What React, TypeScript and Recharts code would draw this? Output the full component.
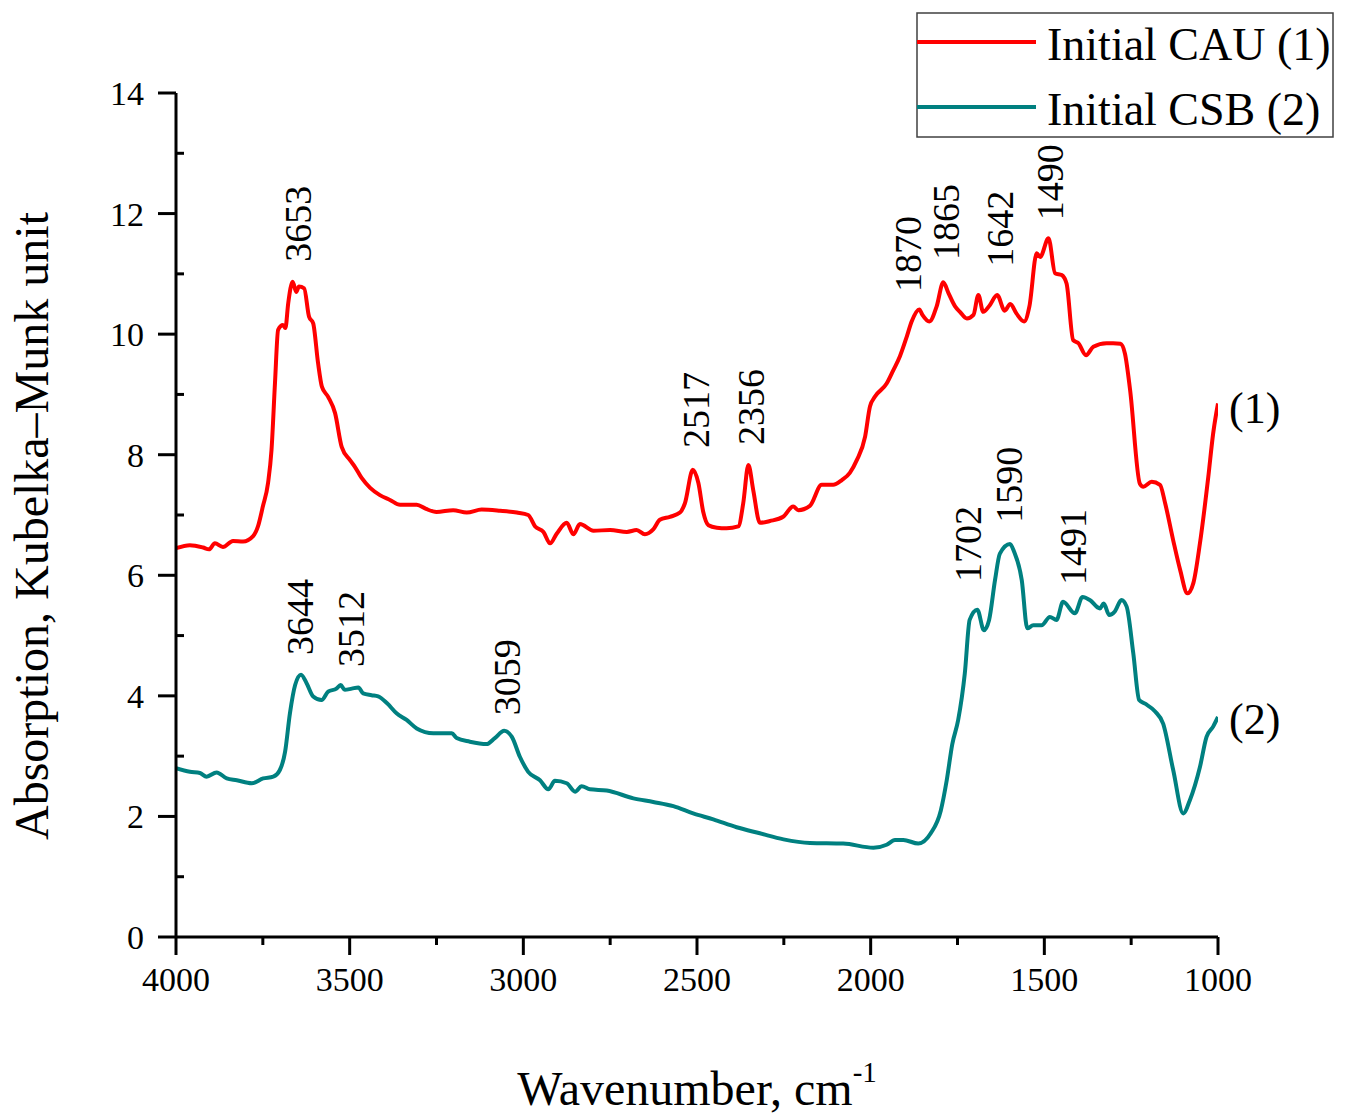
import {
  Label,
  Legend,
  Line,
  LineChart,
  ReferenceDot,
  XAxis,
  YAxis,
} from "recharts";

const FONT = "Liberation Serif, Times New Roman, serif";
const CAU_COLOR = "#ff0000";
const CSB_COLOR = "#008080";

// Initial CAU (1)
const cauWavenumbers = [
  4000, 3960, 3922, 3905, 3888, 3865, 3836, 3807, 3778, 3764, 3750, 3735, 3725,
  3715, 3706, 3692, 3685, 3677, 3664, 3654, 3646, 3631, 3617, 3605, 3591, 3580,
  3562, 3542, 3523, 3499, 3485, 3465, 3441, 3413, 3384, 3355, 3307, 3280, 3250,
  3202, 3163, 3120, 3067, 3019, 2986, 2966, 2942, 2923, 2904, 2875, 2856, 2837,
  2798, 2750, 2702, 2674, 2650, 2626, 2607, 2578, 2549, 2535, 2512, 2496, 2482,
  2467, 2443, 2415, 2381, 2367, 2352, 2338, 2319, 2290, 2252, 2223, 2208, 2175,
  2141, 2108, 2083, 2060, 2040, 2016, 2002, 1988, 1954, 1935, 1916, 1896, 1882,
  1860, 1851, 1831, 1810, 1791, 1776, 1757, 1743, 1723, 1704, 1690, 1676, 1657,
  1636, 1614, 1598, 1580, 1558, 1543, 1522, 1512, 1488, 1469, 1450, 1436, 1417,
  1402, 1380, 1359, 1321, 1302, 1281, 1268, 1253, 1225, 1215, 1191, 1167, 1152,
  1129, 1109, 1088, 1071, 1052, 1028, 1014, 1000,
];
const cauValues = [
  6.45, 6.5, 6.46, 6.43, 6.53, 6.47, 6.57, 6.56, 6.65, 6.81, 7.14, 7.53, 8.08,
  9.19, 10.07, 10.15, 10.1, 10.51, 10.87, 10.7, 10.79, 10.76, 10.29, 10.18, 9.52,
  9.13, 8.96, 8.69, 8.13, 7.91, 7.8, 7.61, 7.45, 7.33, 7.25, 7.17, 7.17, 7.1,
  7.05, 7.08, 7.04, 7.09, 7.07, 7.04, 7.0, 6.81, 6.72, 6.53, 6.69, 6.87, 6.68,
  6.85, 6.74, 6.75, 6.72, 6.75, 6.68, 6.76, 6.92, 6.97, 7.04, 7.19, 7.75, 7.53,
  7.05, 6.83, 6.79, 6.78, 6.81, 7.19, 7.83, 7.41, 6.87, 6.9, 6.97, 7.14, 7.08,
  7.15, 7.5, 7.5, 7.58, 7.7, 7.91, 8.3, 8.8, 8.96, 9.18, 9.4, 9.63, 9.96, 10.21,
  10.41, 10.32, 10.21, 10.46, 10.86, 10.68, 10.46, 10.37, 10.26, 10.32, 10.65,
  10.37, 10.48, 10.65, 10.39, 10.5, 10.34, 10.21, 10.46, 11.34, 11.28, 11.59,
  11.01, 10.98, 10.84, 9.9, 9.85, 9.65, 9.79, 9.85, 9.85, 9.84, 9.68, 9.07, 7.52,
  7.47, 7.55, 7.5, 7.19, 6.58, 6.09, 5.7, 5.87, 6.53, 7.63, 8.35, 8.85,
];

// Initial CSB (2)
const csbWavenumbers = [
  4000, 3960, 3931, 3912, 3883, 3854, 3825, 3782, 3749, 3720, 3701, 3686, 3672,
  3657, 3640, 3624, 3605, 3581, 3562, 3538, 3526, 3514, 3494, 3475, 3461, 3437,
  3418, 3393, 3365, 3336, 3307, 3259, 3206, 3192, 3154, 3106, 3082, 3055, 3033,
  3010, 2986, 2952, 2928, 2909, 2875, 2851, 2832, 2808, 2760, 2683, 2626, 2568,
  2511, 2453, 2386, 2319, 2251, 2175, 2079, 1992, 1954, 1930, 1906, 1863, 1827,
  1798, 1781, 1765, 1748, 1729, 1715, 1693, 1674, 1659, 1642, 1628, 1599, 1587,
  1565, 1549, 1532, 1508, 1484, 1465, 1446, 1412, 1390, 1369, 1340, 1329, 1313,
  1297, 1278, 1263, 1244, 1227, 1210, 1181, 1158, 1129, 1100, 1081, 1052, 1033,
  1014, 1000,
];
const csbValues = [
  2.8, 2.74, 2.72, 2.66, 2.73, 2.63, 2.6, 2.55, 2.63, 2.66, 2.77, 3.07, 3.71,
  4.18, 4.35, 4.21, 3.99, 3.93, 4.07, 4.12, 4.18, 4.1, 4.12, 4.14, 4.04, 4.01,
  3.99, 3.88, 3.71, 3.6, 3.46, 3.38, 3.38, 3.3, 3.24, 3.2, 3.3, 3.42, 3.32, 2.99,
  2.74, 2.6, 2.45, 2.59, 2.55, 2.41, 2.5, 2.45, 2.43, 2.3, 2.24, 2.17, 2.05,
  1.95, 1.82, 1.72, 1.62, 1.56, 1.55, 1.48, 1.53, 1.61, 1.61, 1.55, 1.72, 2.1,
  2.6, 3.2, 3.6, 4.37, 5.26, 5.43, 5.09, 5.26, 5.92, 6.36, 6.52, 6.39, 5.92,
  5.12, 5.17, 5.17, 5.31, 5.26, 5.56, 5.37, 5.64, 5.59, 5.45, 5.53, 5.34, 5.4,
  5.59, 5.48, 4.71, 3.93, 3.87, 3.74, 3.54, 2.77, 2.05, 2.27, 2.82, 3.32, 3.49,
  3.65,
];

// band assignments written above the peaks: text, wavenumber, height of text foot
const cauPeakLabels = ["3653", "2517", "2356", "1870", "1865", "1642", "1490"];
const cauPeakX = [3649, 2504, 2345, 1892, 1784, 1628, 1484];
const cauPeakY = [11.2, 8.11, 8.16, 10.7, 11.23, 11.12, 11.89];

const csbPeakLabels = ["3644", "3512", "3059", "1702", "1590", "1491"];
const csbPeakX = [3643, 3497, 3047, 1719, 1602, 1417];
const csbPeakY = [4.68, 4.48, 3.68, 5.89, 6.87, 5.84];

const xTicks = [
  4000, 3750, 3500, 3250, 3000, 2750, 2500, 2250, 2000, 1750, 1500, 1250, 1000,
];
const yTicks = [0, 1, 2, 3, 4, 5, 6, 7, 8, 9, 10, 11, 12, 13, 14];

const cauData = cauWavenumbers.map((wn, i) => ({ wn, value: cauValues[i] }));
const csbData = csbWavenumbers.map((wn, i) => ({ wn, value: csbValues[i] }));

const peakLabels = [
  ...cauPeakLabels.map((text, i) => ({ text, x: cauPeakX[i], y: cauPeakY[i] })),
  ...csbPeakLabels.map((text, i) => ({ text, x: csbPeakX[i], y: csbPeakY[i] })),
];

const serif = { fontFamily: FONT };

function XTick({ x, y, payload }: any) {
  const major = payload.value % 500 === 0;
  return (
    <g>
      <line x1={x} y1={y} x2={x} y2={y + (major ? 18 : 8)} stroke="#000" strokeWidth={3} />
      {major && (
        <text x={x} y={y + 54} textAnchor="middle" fontSize={34} style={serif} fill="#000">
          {payload.value}
        </text>
      )}
    </g>
  );
}

function YTick({ x, y, payload }: any) {
  const major = payload.value % 2 === 0;
  if (!major) {
    return <line x1={x} y1={y} x2={x + 8} y2={y} stroke="#000" strokeWidth={3} />;
  }
  return (
    <g>
      <line x1={x - 18} y1={y} x2={x} y2={y} stroke="#000" strokeWidth={3} />
      <text x={x - 32} y={y + 12} textAnchor="end" fontSize={34} style={serif} fill="#000">
        {payload.value}
      </text>
    </g>
  );
}

function XTitle({ viewBox }: any) {
  const cx = viewBox.x + viewBox.width / 2;
  return (
    <text x={cx} y={viewBox.y + 168} textAnchor="middle" fontSize={48} style={serif} fill="#000">
      Wavenumber, cm
      <tspan fontSize={29} dy={-23}>-1</tspan>
    </text>
  );
}

function YTitle({ viewBox }: any) {
  const cy = viewBox.y + viewBox.height / 2 + 11;
  const cx = 48;
  return (
    <text
      x={cx}
      y={cy}
      transform={`rotate(-90 ${cx} ${cy})`}
      textAnchor="middle"
      fontSize={48}
      style={serif}
      fill="#000"
    >
      Absorption, Kubelka–Munk unit
    </text>
  );
}

function LegendBox() {
  return (
    <svg width={420} height={128} style={{ display: "block" }}>
      <rect x={1} y={1} width={416} height={124} fill="#fff" stroke="#404040" strokeWidth={1.5} />
      <line x1={1} y1={30} x2={120} y2={30} stroke={CAU_COLOR} strokeWidth={4} />
      <text x={131} y={48} fontSize={46} style={serif} fill="#000">
        Initial CAU (1)
      </text>
      <line x1={1} y1={95} x2={120} y2={95} stroke={CSB_COLOR} strokeWidth={4} />
      <text x={131} y={113} fontSize={46} style={serif} fill="#000">
        Initial CSB (2)
      </text>
    </svg>
  );
}

const rotatedLabel = (text: string) => (props: any) => {
  const { cx, cy } = props;
  return (
    <text
      x={cx}
      y={cy}
      transform={`rotate(-90 ${cx} ${cy})`}
      textAnchor="start"
      dominantBaseline="central"
      fontSize={38}
      style={serif}
      fill="#000"
    >
      {text}
    </text>
  );
};

const endLabel = (text: string, dy: number) => (props: any) => (
  <text
    x={props.cx + 11}
    y={props.cy + dy}
    dominantBaseline="central"
    fontSize={44}
    style={serif}
    fill="#000"
  >
    {text}
  </text>
);

export default function App() {
  const cauEnd = cauData[cauData.length - 1];
  const csbEnd = csbData[csbData.length - 1];
  return (
    <div style={{ position: "absolute", left: 0, top: 0, background: "#fff", fontFamily: FONT }}>
      <LineChart width={1346} height={1118} margin={{ top: 93, right: 128, bottom: 121, left: 116 }}>
        <XAxis
          type="number"
          dataKey="wn"
          domain={[1000, 4000]}
          reversed
          ticks={xTicks}
          interval={0}
          height={60}
          tickSize={0}
          tickMargin={0}
          tickLine={false}
          tick={<XTick />}
          axisLine={{ stroke: "#000", strokeWidth: 3 }}
          allowDataOverflow
        >
          <Label content={<XTitle />} />
        </XAxis>
        <YAxis
          type="number"
          domain={[0, 14]}
          ticks={yTicks}
          interval={0}
          width={60}
          tickSize={0}
          tickMargin={0}
          tickLine={false}
          tick={<YTick />}
          axisLine={{ stroke: "#000", strokeWidth: 3 }}
          allowDataOverflow
        >
          <Label content={<YTitle />} />
        </YAxis>
        <Legend
          layout="vertical"
          align="center"
          verticalAlign="middle"
          content={<LegendBox />}
          wrapperStyle={{ left: 916, top: 12, width: 420, height: 128 }}
        />
        <Line
          data={cauData}
          dataKey="value"
          name="Initial CAU (1)"
          type="monotone"
          stroke={CAU_COLOR}
          strokeWidth={4}
          dot={false}
          activeDot={false}
          isAnimationActive={false}
        />
        <Line
          data={csbData}
          dataKey="value"
          name="Initial CSB (2)"
          type="monotone"
          stroke={CSB_COLOR}
          strokeWidth={4}
          dot={false}
          activeDot={false}
          isAnimationActive={false}
        />
        {peakLabels.map((p) => (
          <ReferenceDot
            key={p.text + p.x}
            x={p.x}
            y={p.y}
            r={0}
            ifOverflow="visible"
            shape={rotatedLabel(p.text)}
          />
        ))}
        <ReferenceDot x={cauEnd.wn} y={cauEnd.value} r={0} ifOverflow="visible" shape={endLabel("(1)", 5)} />
        <ReferenceDot x={csbEnd.wn} y={csbEnd.value} r={0} ifOverflow="visible" shape={endLabel("(2)", 3)} />
      </LineChart>
    </div>
  );
}
